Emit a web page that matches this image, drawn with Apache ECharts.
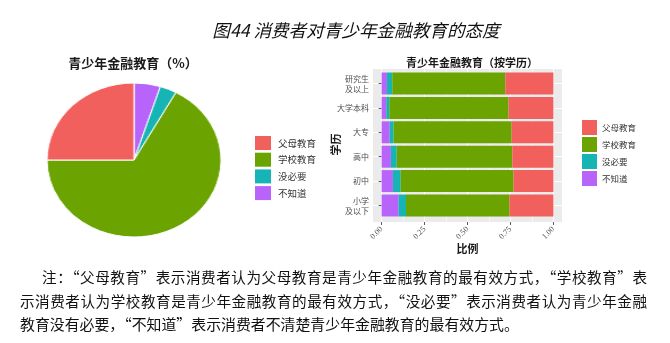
<!DOCTYPE html>
<html lang="zh">
<head>
<meta charset="utf-8">
<script src="https://cdn.jsdelivr.net/npm/echarts@6/dist/echarts.min.js"></script>
<style>
html,body{margin:0;padding:0;background:#fff;}
#wrap{position:relative;width:670px;height:343px;overflow:hidden;}
#main{position:absolute;left:0;top:0;width:670px;height:343px;}
#pie{position:absolute;left:54px;top:80px;width:160px;height:160px;transform:scaleX(1.13);transform-origin:50% 50%;}
.fn{position:absolute;font-family:"Noto Sans CJK SC","Noto Sans",sans-serif;font-size:14.6px;line-height:20px;color:#111;text-align:justify;text-align-last:justify;}
.fn.last{text-align:left;text-align-last:left;font-size:14.9px;}
</style>
</head>
<body>
<div id="wrap">
  <div id="main"></div>
  <div id="pie"></div>
  <div class="fn" style="left:42px;top:267px;width:605px;">注：“父母教育”表示消费者认为父母教育是青少年金融教育的最有效方式，“学校教育”表</div>
  <div class="fn" style="left:20px;top:291px;width:627px;">示消费者认为学校教育是青少年金融教育的最有效方式，“没必要”表示消费者认为青少年金融</div>
  <div class="fn last" style="left:20px;top:314px;width:627px;">教育没有必要，“不知道”表示消费者不清楚青少年金融教育的最有效方式。</div>
</div>
<script>
// ---- data ----
const categories = ['研究生\n及以上', '大学本科', '大专', '高中', '初中', '小学\n及以下'];
const legendNames = ['父母教育', '学校教育', '没必要', '不知道'];
const tickLabels = ['0.00', '0.25', '0.50', '0.75', '1.00'];
// stacked proportions by education level (left to right: 不知道, 没必要, 学校教育, 父母教育)
const buZhiDao = [0.031, 0.027, 0.047, 0.054, 0.066, 0.099];
const meiBiYao = [0.031, 0.018, 0.023, 0.034, 0.045, 0.043];
const xueXiao  = [0.658, 0.694, 0.687, 0.673, 0.657, 0.603];
const fuMu     = [0.280, 0.261, 0.243, 0.239, 0.232, 0.255];
// pie (%)
const pieNames  = ['不知道', '没必要', '学校教育', '父母教育'];
const pieValues = [4.9, 3.1, 67.0, 25.0];

const colors = {'父母教育':'#F2605E','学校教育':'#6BA300','没必要':'#17B4B5','不知道':'#B863FA'};
const CJK = '"Noto Sans CJK SC","Noto Sans",sans-serif';

const main = echarts.init(document.getElementById('main'), null, {renderer:'canvas'});
const barSeriesData = [['不知道', buZhiDao], ['没必要', meiBiYao], ['学校教育', xueXiao], ['父母教育', fuMu]];

main.setOption({
  animation:false,
  textStyle:{fontFamily:CJK},
  title:[
    {text:'图44 消费者对青少年金融教育的态度', left:351, top:17, textAlign:'center',
     textStyle:{fontSize:17.6, fontStyle:'italic', fontWeight:'normal', color:'#111', fontFamily:CJK}},
    {text:'青少年金融教育（%）', left:128, top:52, textAlign:'center',
     textStyle:{fontSize:13, fontWeight:'bold', color:'#1a1a1a', fontFamily:CJK}},
    {text:'青少年金融教育（按学历）', left:467, top:52, textAlign:'center',
     textStyle:{fontSize:11, fontWeight:'bold', color:'#1a1a1a', fontFamily:CJK}}
  ],
  legend:[
    {data:legendNames, orient:'vertical', left:250, top:131, itemWidth:16, itemHeight:14, itemGap:2.7,
     icon:'rect', selectedMode:false, textStyle:{fontSize:9.5, color:'#333', padding:[0,0,0,2]}},
    {data:legendNames, orient:'vertical', left:577, top:115, itemWidth:15, itemHeight:15, itemGap:2,
     icon:'rect', selectedMode:false, textStyle:{fontSize:8.5, color:'#333'}}
  ],
  grid:[
    {left:381.6, top:71.3, width:171.8, height:146.4, show:false},
    {left:381.6, top:69, width:171.8, height:153, show:false},
    {left:373, top:69, width:189, height:153, show:true, backgroundColor:'#EBEBEB', borderWidth:0, z:0},
    {left:373, top:83.5, width:189, height:122, show:false}
  ],
  xAxis:[
    {gridIndex:0, type:'value', min:0, max:1, show:false},
    {gridIndex:1, type:'value', min:0, max:1, interval:0.25, z:1,
     axisLine:{show:false},
     axisTick:{show:true, length:3, lineStyle:{color:'#333', width:0.8}},
     axisLabel:{formatter:(v)=>tickLabels[Math.round(v*4)], rotate:45, fontSize:8, color:'#4D4D4D',
                margin:6, fontFamily:'"Liberation Serif","DejaVu Serif",serif'},
     splitLine:{show:true, lineStyle:{color:'#fff', width:1.1}},
     minorTick:{show:false, splitNumber:2},
     minorSplitLine:{show:true, lineStyle:{color:'#fff', width:0.5}},
     name:'比例', nameLocation:'middle', nameGap:21, nameMoveOverlap:false,
     nameTextStyle:{fontSize:11, fontWeight:'bold', color:'#1a1a1a'}},
    {gridIndex:2, type:'value', show:false},
    {gridIndex:3, type:'value', show:false}
  ],
  yAxis:[
    {gridIndex:0, type:'category', data:categories, inverse:true, offset:8.6, z:1,
     axisLine:{show:false},
     axisTick:{show:true, length:3, alignWithLabel:true, lineStyle:{color:'#333', width:0.8}},
     axisLabel:{fontSize:8, color:'#4D4D4D', margin:4, lineHeight:10},
     splitLine:{show:false},
     name:'学历', nameLocation:'middle', nameGap:32, nameRotate:90, nameMoveOverlap:false,
     nameTextStyle:{fontSize:11, fontWeight:'bold', color:'#1a1a1a'}},
    {gridIndex:1, type:'value', show:false},
    {gridIndex:2, type:'value', show:false},
    {gridIndex:3, type:'value', min:0, max:5, interval:1, inverse:true, z:1,
     axisLine:{show:false}, axisTick:{show:false}, axisLabel:{show:false},
     splitLine:{show:true, lineStyle:{color:'#fff', width:1.1}}}
  ],
  series: barSeriesData.map(([name, vals]) => ({
    name:name, type:'bar', stack:'all', xAxisIndex:0, yAxisIndex:0, z:3,
    barWidth:'90%', data:vals, itemStyle:{color:colors[name]}
  }))
});

const pie = echarts.init(document.getElementById('pie'), null, {renderer:'canvas'});
pie.setOption({
  animation:false,
  series:[{
    type:'pie', center:['50%','50%'], radius:77, startAngle:90, clockwise:true,
    label:{show:false}, labelLine:{show:false},
    itemStyle:{borderColor:'#fff', borderWidth:1},
    data:pieNames.map((n,i)=>({name:n, value:pieValues[i], itemStyle:{color:colors[n]}}))
  }]
});
</script>
</body>
</html>
